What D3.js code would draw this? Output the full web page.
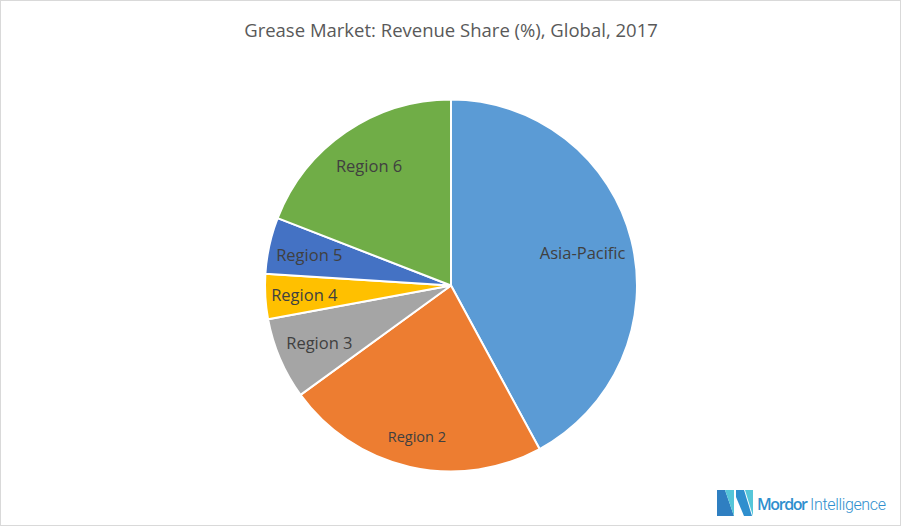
<!DOCTYPE html>
<html><head><meta charset="utf-8">
<script src="https://cdn.jsdelivr.net/npm/d3@7"></script>
<style>body{margin:0;background:#fff;}svg{display:block;}</style>
</head><body>
<svg id="c" width="902" height="527"></svg>
<script>
const title = "Grease Market: Revenue Share (%), Global, 2017";
const categories = ["Asia-Pacific","Region 2","Region 3","Region 4","Region 5","Region 6"];
const shares = [42.1, 22.9, 7.1, 3.9, 4.9, 19.1];
const colors = ["#5B9BD5","#ED7D31","#A5A5A5","#FFC000","#4472C4","#70AD47"];
const labelRadiusFactor = [0.73, 0.83, 0.77, 0.79, 0.78, 0.78];
const labelFontSize = [16.5, 14.5, 16.5, 16.5, 16.5, 16.5];

const svg = d3.select("#c");
const W = 902, H = 527;
svg.append("rect").attr("x",0.5).attr("y",0.5).attr("width",W-2).attr("height",H-2)
  .attr("fill","#fff").attr("stroke","#d9d9d9").attr("stroke-width",1);

const font = "'Open Sans', Lato, sans-serif";
svg.append("text").attr("x",451).attr("y",37).attr("text-anchor","middle")
  .attr("font-family",font).attr("font-size",18.5).attr("fill","#595959").text(title);

const cx = 451, cy = 285.5, R = 186;
const pie = d3.pie().sort(null).value(d=>d.v);
const data = categories.map((c,i)=>({c, v:shares[i], i}));
const arcs = pie(data);
const arc = d3.arc().innerRadius(0).outerRadius(R);
const g = svg.append("g").attr("transform",`translate(${cx},${cy})`);
g.selectAll("path").data(arcs).join("path")
  .attr("d",arc).attr("fill",d=>colors[d.data.i])
  .attr("stroke","#fff").attr("stroke-width",2).attr("stroke-linejoin","round");

g.selectAll("text.lbl").data(arcs).join("text").attr("class","lbl")
  .attr("transform",d=>{
    const a=(d.startAngle+d.endAngle)/2, r=R*labelRadiusFactor[d.data.i];
    return `translate(${r*Math.sin(a)},${-r*Math.cos(a)})`;})
  .attr("text-anchor","middle").attr("dy","0.4em")
  .attr("font-family",font).attr("font-size",d=>labelFontSize[d.data.i])
  .attr("fill","#404040").text(d=>d.data.c);

// logo
const lg = svg.append("g");
lg.append("polygon").attr("points","717,490 725,490 734,516 717,516").attr("fill","#2f7fc1");
lg.append("polygon").attr("points","725,490 734,490 734,516").attr("fill","#55c6d9");
lg.append("polygon").attr("points","736,490 744,490 752,516 744,516 736,497").attr("fill","#2f8fce");
lg.append("polygon").attr("points","745,490 753,490 753,516").attr("fill","#55c6d9");
lg.append("text").attr("x",757).attr("y",510).attr("font-family","'Open Sans', Roboto, sans-serif")
  .attr("font-size",16).attr("font-weight",600).attr("fill","#2f8fce").attr("textLength",51).text("Mordor");
lg.append("text").attr("x",810).attr("y",510).attr("font-family","Roboto, 'Open Sans', sans-serif")
  .attr("font-size",16).attr("font-weight",300).attr("fill","#2f8fce").attr("textLength",76).text("Intelligence");
</script>
</body></html>
